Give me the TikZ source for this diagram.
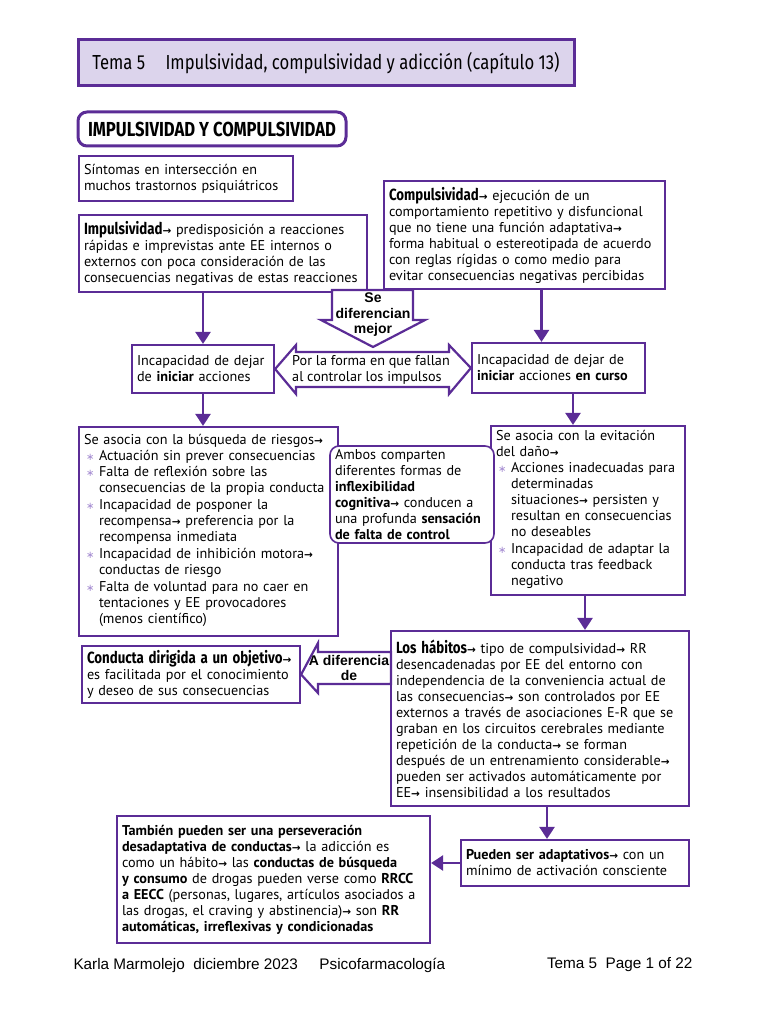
\documentclass[tikz,border=0pt]{standalone}
\usepackage{fontspec}
\setmainfont{PT Sans}
\newfontfamily\manofont[FakeStretch=0.82]{Fira Sans}
\newfontfamily\arialfont{Liberation Sans}
\newfontfamily\simbfont{DejaVu Sans}
\usetikzlibrary{arrows.meta}
\definecolor{lila}{HTML}{5B2C96}
\definecolor{lilafondo}{HTML}{DCD4EC}
\definecolor{lilaclaro}{HTML}{A68DD2}
\newcommand{\fle}{{\simbfont\fontsize{10.5}{10}\selectfont\bfseries →}}
\newcommand{\mano}[1]{{\manofont\bfseries\fontsize{16.2}{16}\selectfont #1}}
\newcommand{\punto}[1]{\par\noindent\makebox[15pt][l]{\hspace{2pt}\textcolor{lilaclaro}{\simbfont\fontsize{10}{10}\selectfont ∗}}\begin{tabular}[t]{@{}l@{}}#1\end{tabular}}
\tikzset{
	caja/.style={draw=lila, line width=2.2pt, fill=white, align=left, inner xsep=5pt, inner ysep=3pt, font=\fontsize{14.2}{16}\selectfont},
	flecha/.style={draw=lila, line width=2.6pt, -{Triangle[width=15pt,length=12pt]}},
	bloque/.style={draw=lila, line width=2.2pt, fill=white, line join=miter},
	rotulo/.style={font=\arialfont\bfseries\fontsize{14}{15.5}\selectfont, align=center, inner sep=0pt},
}
\begin{document}
\begin{tikzpicture}[x=1pt,y=-1pt]
			\useasboundingbox (0,0) rectangle (768,1024);
			\node[draw=lila, line width=3pt, fill=lilafondo, minimum width=496pt, minimum height=46pt, font=\manofont\fontsize{20.3}{22}\selectfont] (tema) at (326,63) {Tema 5\hspace{1em}Impulsividad, compulsividad y adicción (capítulo 13)};
			\node[draw=lila, line width=3pt, rounded corners=9pt, minimum width=268pt, minimum height=34pt, font=\manofont\bfseries\fontsize{20.3}{22}\selectfont] (seccion) at (212,129) {IMPULSIVIDAD Y COMPULSIVIDAD};
			\node[caja, text width=204pt, minimum height=45pt] (sintomas) at (186,178.5) {Síntomas en intersección en\\muchos trastornos psiquiátricos};
			\node[caja, text width=278pt, minimum height=77pt] (impul) at (223,253.5) {\mano{Impulsividad}\fle{} predisposición a reacciones\\rápidas e imprevistas ante EE internos o\\externos con poca consideración de las\\consecuencias negativas de estas reacciones};
			\node[caja, text width=271pt, minimum height=108pt] (compul) at (524.5,235) {\mano{Compulsividad}\fle{} ejecución de un\\comportamiento repetitivo y disfuncional\\que no tiene una función adaptativa\fle\\forma habitual o estereotipada de acuerdo\\con reglas rígidas o como medio para\\evitar consecuencias negativas percibidas};
			\node[caja, text width=132pt, minimum height=48pt] (inca1) at (203,369) {Incapacidad de dejar\\de \textbf{iniciar} acciones};
			\node[caja, text width=163pt, minimum height=50pt] (inca2) at (558.5,368) {Incapacidad de dejar de\\\textbf{iniciar} acciones \textbf{en curso}};
			\node[caja, text width=249pt, minimum height=209pt] (busq) at (208.5,531.5) {Se asocia con la búsqueda de riesgos\fle
				\punto{Actuación sin prever consecuencias}
				\punto{Falta de reflexión sobre las\\consecuencias de la propia conducta}
				\punto{Incapacidad de posponer la\\recompensa\fle{} preferencia por la\\recompensa inmediata}
				\punto{Incapacidad de inhibición motora\fle\\conductas de riesgo}
				\punto{Falta de voluntad para no caer en\\tentaciones y EE provocadores\\(menos científico)}};
			\node[caja, text width=184pt, minimum height=169pt] (evit) at (588,510.5) {Se asocia con la evitación\\del daño\fle
				\punto{Acciones inadecuadas para\\determinadas\\situaciones\fle{} persisten y\\resultan en consecuencias\\no deseables}
				\punto{Incapacidad de adaptar la\\conducta tras feedback\\negativo}};
			\node[caja, rounded corners=9pt, line width=1.6pt, text width=154pt, minimum height=97pt] (ambos) at (412,494.5) {Ambos comparten\\diferentes formas de\\\textbf{inflexibilidad}\\\textbf{cognitiva\fle} conducen a\\una profunda \textbf{sensación}\\\textbf{de falta de control}};
			\node[caja, text width=288pt, minimum height=175pt] (habitos) at (540,718.5) {\mano{Los hábitos}\fle{} tipo de compulsividad\fle{} RR\\desencadenadas por EE del entorno con\\independencia de la conveniencia actual de\\las consecuencias\fle{} son controlados por EE\\externos a través de asociaciones E-R que se\\graban en los circuitos cerebrales mediante\\repetición de la conducta\fle{} se forman\\después de un entrenamiento considerable\fle\\pueden ser activados automáticamente por\\EE\fle{} insensibilidad a los resultados};
			\node[caja, text width=208pt, minimum height=57pt] (conducta) at (191,674.5) {\mano{Conducta dirigida a un objetivo}\fle\\es facilitada por el conocimiento\\y deseo de sus consecuencias};
			\node[caja, text width=218pt, minimum height=46pt] (pueden) at (575,863) {\textbf{Pueden ser adaptativos\fle} con un\\mínimo de activación consciente};
			\node[caja, text width=303pt, minimum height=127pt] (tambien) at (273.5,879.5) {\textbf{También pueden ser una perseveración}\\\textbf{desadaptativa de conductas\fle} la adicción es\\como un hábito\fle{} las \textbf{conductas de búsqueda}\\\textbf{y consumo} de drogas pueden verse como \textbf{RRCC}\\\textbf{a EECC} (personas, lugares, artículos asociados a\\las drogas, el craving y abstinencia)\fle{} son \textbf{RR}\\\textbf{automáticas, irreflexivas y condicionadas}};
			\draw[bloque] (332,290) -- (413,290) -- (413,320) -- (425,320) -- (373,347) -- (321,320) -- (332,320) -- cycle;
			\node[rotulo] (difmejor) at (373,315) {Se\\diferencian\\mejor};
			\draw[bloque] (inca1.east) -- (296,345) -- (296,352) -- (449,352) -- (449,345) -- (inca2.west) -- (449,394) -- (449,387) -- (296,387) -- (296,394) -- cycle;
			\node[font=\fontsize{14.2}{16}\selectfont, align=left, inner sep=0pt] (forma) at (371,370) {Por la forma en que fallan\\al controlar los impulsos};
			\draw[bloque] (conducta.east) -- (318,643) -- (318,652) -- (391,652) -- (391,684) -- (318,684) -- (318,693) -- cycle;
			\node[rotulo] (adif) at (349,668) {A diferencia\\de};
			\draw[flecha] (inca1.north |- impul.south) -- (inca1.north);
			\draw[flecha] ([xshift=17pt]compul.south) -- ([xshift=17pt]compul.south |- inca2.north);
			\draw[flecha] (inca1.south) -- (inca1.south |- busq.north);
			\draw[flecha] ([xshift=14.5pt]inca2.south) -- ([xshift=14.5pt]inca2.south |- evit.north);
			\draw[flecha] ([xshift=-3pt]evit.south) -- ([xshift=-3pt]evit.south |- habitos.north);
			\draw[flecha] ([xshift=7pt]habitos.south) -- ([xshift=7pt]habitos.south |- pueden.north);
			\draw[flecha] (pueden.west) -- (pueden.west -| tambien.east);
			\node[anchor=west, font=\arialfont\fontsize{15.3}{17}\selectfont] (pie) at (70,965) {Karla Marmolejo\ \ diciembre 2023\hspace{1.4em}Psicofarmacología};
			\node[anchor=east, font=\arialfont\fontsize{15.3}{17}\selectfont] (pagina) at (696,965) {Tema 5\ \ Page 1 of 22};
		\end{tikzpicture}
\end{document}
